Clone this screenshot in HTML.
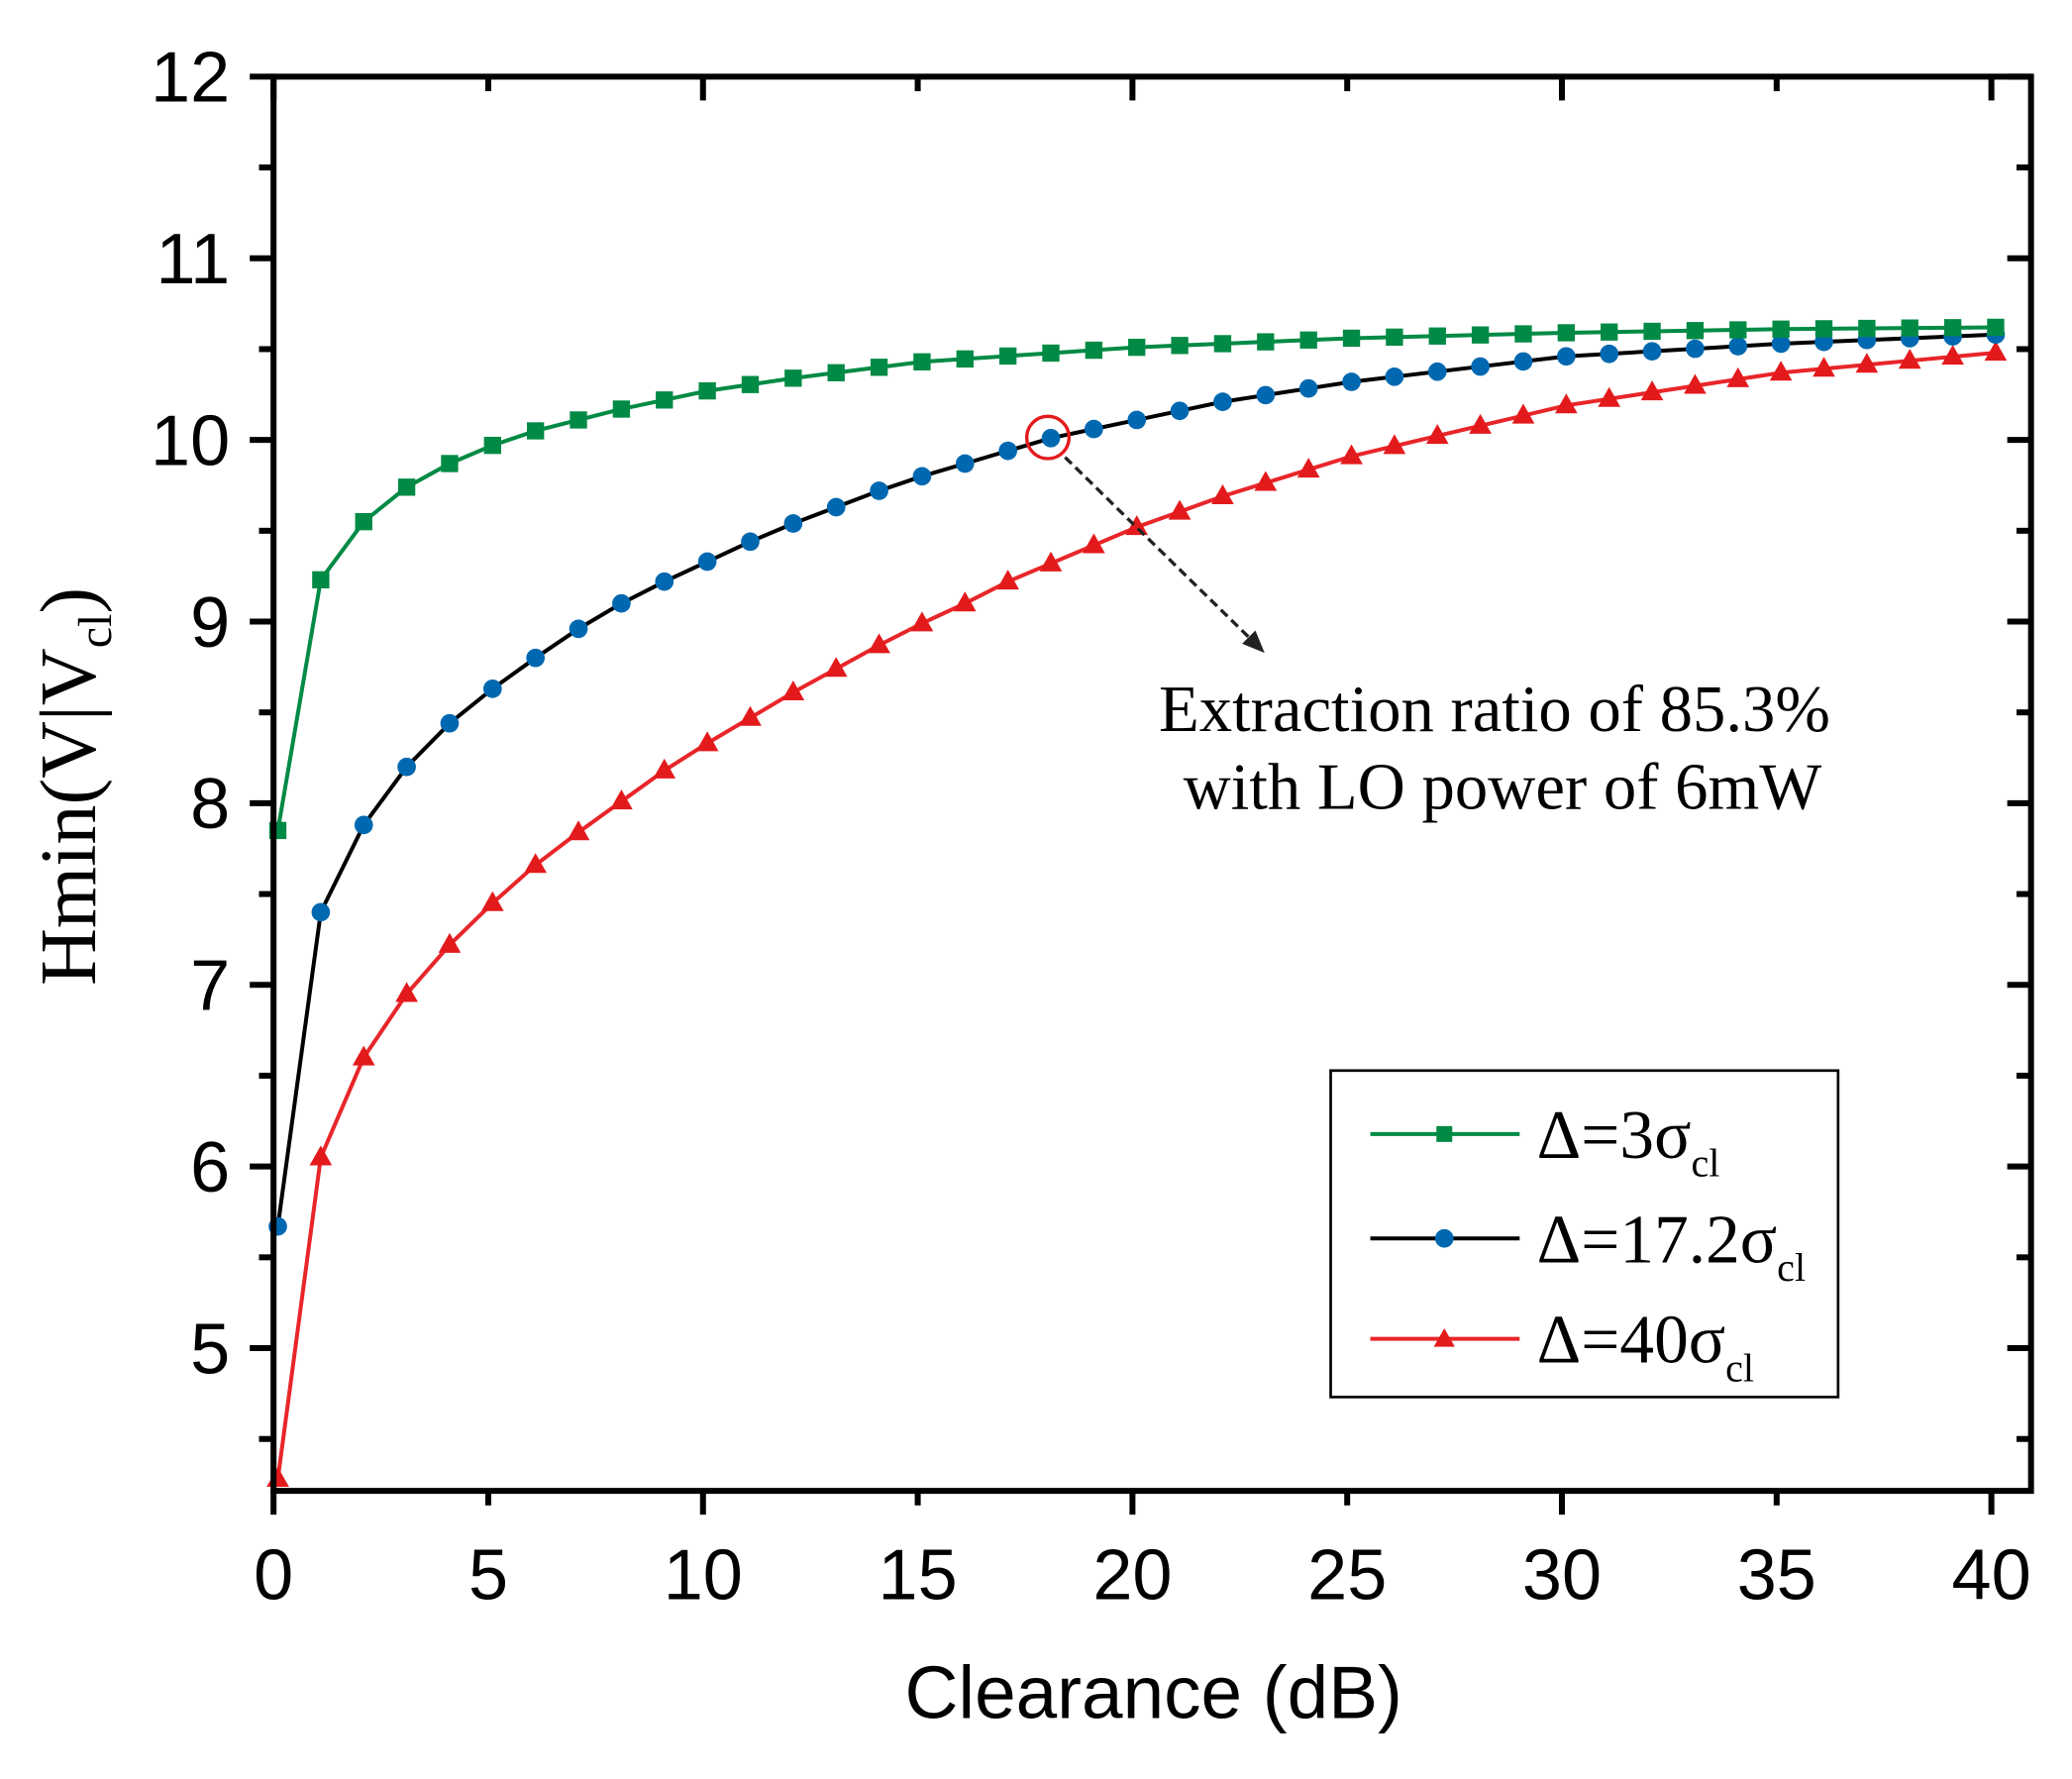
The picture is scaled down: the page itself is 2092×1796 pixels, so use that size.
<!DOCTYPE html>
<html><head><meta charset="utf-8"><style>html,body{margin:0;padding:0;background:#fff}svg{display:block}</style></head>
<body>
<svg id="s" xmlns="http://www.w3.org/2000/svg" width="2092" height="1796" viewBox="0 0 1568 1346" preserveAspectRatio="none">
<rect width="1568" height="1346" fill="#fff"/>
<g id="data"></g>
<g stroke="#000" stroke-width="4.5" fill="none" id="axes">
<rect x="207" y="58" width="1330" height="1070"/>
</g>
<g font-family="'Liberation Sans',Arial,sans-serif" font-size="54" fill="#000" id="ticklabels"></g>
<text x="873" y="1300" font-family="'Liberation Sans',Arial,sans-serif" font-size="56" text-anchor="middle">Clearance (dB)</text>
<text transform="translate(72,595) rotate(-90)" font-family="'Liberation Serif',serif" font-size="60" text-anchor="middle">Hmin(V|V<tspan font-size="36" dy="12">cl</tspan><tspan dy="-12">)</tspan></text>
<circle cx="793" cy="331" r="16" fill="none" stroke="#e31a1c" stroke-width="2.5"/>
<line x1="806" y1="346" x2="948" y2="485" stroke="#222" stroke-width="2.5" stroke-dasharray="7,4"/>
<polygon points="957,494 940,487 950,477" fill="#222"/>
<text x="1131" y="553" font-family="'Liberation Serif',serif" font-size="50" text-anchor="middle">Extraction ratio of 85.3%</text>
<text x="1137" y="612" font-family="'Liberation Serif',serif" font-size="50" text-anchor="middle">with LO power of 6mW</text>
<rect x="1007" y="810" width="384" height="247" fill="#fff" stroke="#000" stroke-width="2"/>
<line x1="1037" y1="858" x2="1150" y2="858" stroke="#008a45" stroke-width="3"/><rect x="1087" y="852" width="12" height="12" fill="#008a45"/>
<line x1="1037" y1="937" x2="1150" y2="937" stroke="#000" stroke-width="3"/><circle cx="1093" cy="937" r="7" fill="#0068b0"/>
<line x1="1037" y1="1013" x2="1150" y2="1013" stroke="#e8262a" stroke-width="3"/><polygon points="1093,1005 1101,1019 1085,1019" fill="#e31a1c"/>
<g font-family="'Liberation Serif',serif" font-size="52">
<text x="1163" y="876">Δ=3σ<tspan font-size="30" dy="14">cl</tspan></text>
<text x="1163" y="955">Δ=17.2σ<tspan font-size="30" dy="14">cl</tspan></text>
<text x="1163" y="1031">Δ=40σ<tspan font-size="30" dy="14">cl</tspan></text>
</g>
</svg>
<script>
(function(){
var NS="http://www.w3.org/2000/svg";
function X(v){return 207+v*32.5;}
function Y(v){return 58+(12-v)*137.43;}
function el(t,a,p){var e=document.createElementNS(NS,t);for(var k in a)e.setAttribute(k,a[k]);p.appendChild(e);return e;}
var ax=document.getElementById('axes'),tl=document.getElementById('ticklabels'),dg=document.getElementById('data');
for(var x=0;x<=40;x+=5){var maj=x%10==0;var L=maj?18:11;
 el('line',{x1:X(x),y1:1128,x2:X(x),y2:1128+L},ax);
 el('line',{x1:X(x),y1:58,x2:X(x),y2:58+L},ax);
 var t=el('text',{x:X(x),y:1210,'text-anchor':'middle'},tl);t.textContent=x;}
for(var y=4.5;y<=12;y+=0.5){var maj=Math.abs(y-Math.round(y))<1e-6;var L=maj?18:11;
 el('line',{x1:207,y1:Y(y),x2:207-L,y2:Y(y)},ax);
 el('line',{x1:1537,y1:Y(y),x2:1537-L,y2:Y(y)},ax);
 if(maj&&y>=5){var t=el('text',{x:174,y:Y(y)+19,'text-anchor':'end'},tl);t.textContent=y;}}
function interp(a,x){for(var i=0;i<a.length-1;i++){if(x>=a[i][0]&&x<=a[i+1][0]){var f=(x-a[i][0])/(a[i+1][0]-a[i][0]);return a[i][1]+f*(a[i+1][1]-a[i][1]);}}return a[a.length-1][1];}
var G=[[0,7.85],[1,9.23],[2,9.55],[3,9.74],[4,9.87],[5,9.97],[6,10.05],[7,10.11],[8,10.17],[10,10.27],[12,10.34],[15,10.43],[20,10.51],[25,10.56],[30,10.59],[35,10.61],[40,10.62]];
var B=[[0,5.67],[1,7.40],[2,7.88],[3,8.20],[4,8.44],[5,8.63],[6,8.80],[7,8.96],[8,9.10],[9,9.22],[10,9.33],[11,9.44],[12,9.54],[13,9.63],[14,9.72],[15,9.80],[16,9.87],[17,9.94],[18,10.01],[19,10.06],[20,10.11],[22,10.21],[25,10.32],[30,10.46],[35,10.53],[40,10.58]];
var R=[[0,4.28],[1,6.05],[2,6.60],[3,6.95],[4,7.22],[5,7.45],[6,7.66],[7,7.84],[8,8.01],[9,8.18],[10,8.33],[11,8.47],[12,8.61],[13,8.74],[14,8.87],[15,8.99],[16,9.10],[17,9.22],[18,9.32],[19,9.42],[20,9.52],[22,9.69],[25,9.91],[30,10.19],[35,10.37],[40,10.48]];
function series(a,lc,mc,kind){var pts=[];for(var x=0;x<=40;x++)pts.push([X(x+0.1),Y(interp(a,x))]);
 el('polyline',{points:pts.map(function(p){return p.join(',')}).join(' '),fill:'none',stroke:lc,'stroke-width':3},dg);
 pts.forEach(function(p){if(kind=='s')el('rect',{x:p[0]-6.5,y:p[1]-6.5,width:13,height:13,fill:mc},dg);
 else if(kind=='c')el('circle',{cx:p[0],cy:p[1],r:7,fill:mc},dg);
 else el('polygon',{points:(p[0])+','+(p[1]-9)+' '+(p[0]+8.5)+','+(p[1]+6)+' '+(p[0]-8.5)+','+(p[1]+6),fill:mc},dg);});}
series(R,'#e8262a','#e31a1c','t');
series(B,'#000','#0068b0','c');
series(G,'#008a45','#008a45','s');
})();
</script>
</body></html>
